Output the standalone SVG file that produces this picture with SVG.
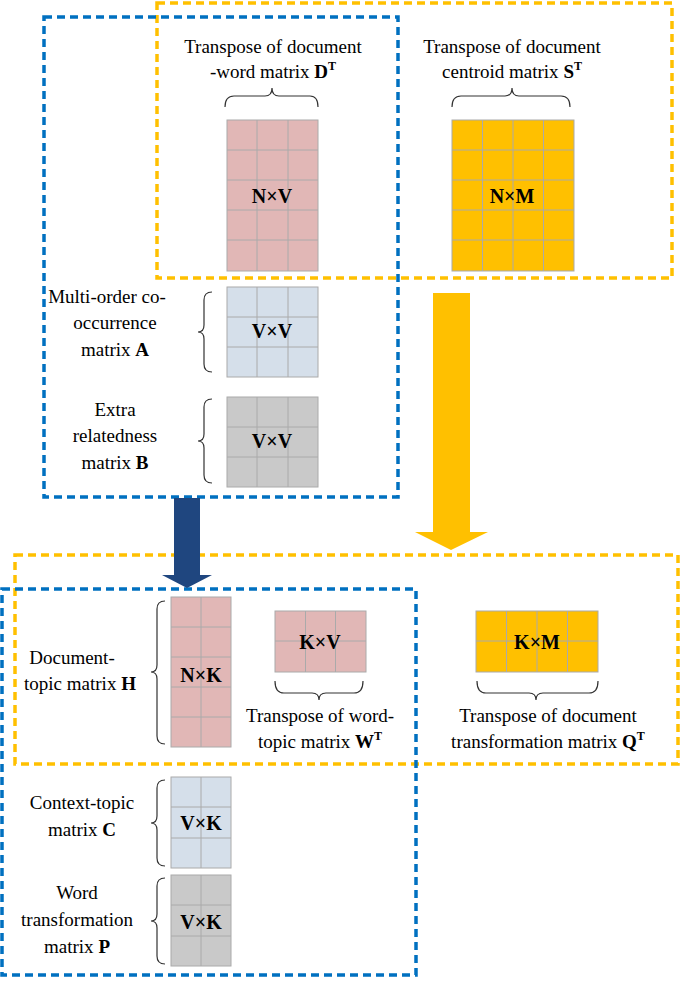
<svg xmlns="http://www.w3.org/2000/svg" width="685" height="988" viewBox="0 0 685 988">
<style>
text{font-family:"Liberation Serif",serif;font-size:19px;fill:#000;text-anchor:middle}
.b{font-weight:bold}
.l{font-size:20px;font-weight:bold}
.g{stroke:#aaa;stroke-width:1}
.br{fill:none;stroke:#333;stroke-width:1.2}
.ob{fill:none;stroke:#FFC000;stroke-width:3.5;stroke-dasharray:8 5}
.bb{fill:none;stroke:#0070C0;stroke-width:3.5;stroke-dasharray:8 5}
.pink{fill:#E1B7B6}.blue{fill:#D5DFEA}.gray{fill:#C9C9C9}.gold{fill:#FFC000}
</style>
<defs>
<pattern id="grid" width="30.3" height="30" patternUnits="userSpaceOnUse"><path d="M0 0H30.3M0 0V30" class="g" fill="none"/></pattern>
</defs>
<g id="frames">
<rect class="ob" x="157" y="3" width="515" height="275"/>
<rect class="bb" x="44" y="17" width="354" height="480"/>
<rect class="ob" x="15" y="555" width="663" height="209"/>
<rect class="bb" x="2" y="589" width="414" height="386"/>
</g>
<g id="connectors">
<path d="M174 498H200V575H212L187 588L162 575H174Z" fill="#1F467F"/>
<path d="M433 293H470V532H488L451 550L415 532H433Z" fill="#FFC000"/>
</g>
<g id="D">
<rect class="pink" x="227" y="120" width="91" height="151" stroke="#aaa"/>
<path class="g" d="M257 120V271M288 120V271M227 150H318M227 180H318M227 210H318M227 240H318"/>
<text x="272" y="203" class="l">N×V</text>
<path class="br" d="M225 107Q225 96 234 96H265Q272 96 272 88Q272 96 279 96H310Q318 96 318 107"/>
<text x="273" y="53">Transpose of document</text>
<text x="273" y="78">-word matrix <tspan class="b">D</tspan><tspan class="b" font-size="12" dy="-8">T</tspan></text>
</g>
<g id="S">
<rect class="gold" x="452" y="120" width="122" height="151" stroke="#aaa"/>
<path class="g" d="M482.5 120V271M513 120V271M543.5 120V271M452 150H574M452 180H574M452 210H574M452 240H574"/>
<text x="512" y="203" class="l">N×M</text>
<path class="br" d="M452 107Q452 96 461 96H505Q512 96 512 88Q512 96 519 96H561Q570 96 570 107"/>
<text x="512" y="53">Transpose of document</text>
<text x="512" y="78">centroid matrix <tspan class="b">S</tspan><tspan class="b" font-size="12" dy="-8">T</tspan></text>
</g>
<g id="A">
<rect class="blue" x="227" y="287" width="91" height="90" stroke="#aaa"/>
<path class="g" d="M257 287V377M288 287V377M227 317H318M227 347H318"/>
<text x="272" y="338" class="l">V×V</text>
<path class="br" d="M212 292Q204 292 204 300V325Q204 332 198 332Q204 332 204 339V364Q204 372 212 372"/>
<text x="107" y="303">Multi-order co-</text>
<text x="115" y="329">occurrence</text>
<text x="115" y="356">matrix <tspan class="b">A</tspan></text>
</g>
<g id="B">
<rect class="gray" x="227" y="397" width="91" height="90" stroke="#aaa"/>
<path class="g" d="M257 397V487M288 397V487M227 427H318M227 457H318"/>
<text x="272" y="448" class="l">V×V</text>
<path class="br" d="M212 399Q204 399 204 407V434Q204 441 198 441Q204 441 204 448V475Q204 483 212 483"/>
<text x="115" y="416">Extra</text>
<text x="115" y="442">relatedness</text>
<text x="115" y="469">matrix <tspan class="b">B</tspan></text>
</g>
<g id="H">
<rect class="pink" x="171" y="597" width="60" height="150" stroke="#aaa"/>
<path class="g" d="M201 597V747M171 627H231M171 657H231M171 687H231M171 717H231"/>
<text x="201" y="682" class="l">N×K</text>
<path class="br" d="M165 601Q157 601 157 609V665Q157 672 151 672Q157 672 157 679V736Q157 744 165 744"/>
<text x="72" y="664">Document-</text>
<text x="80" y="690">topic matrix <tspan class="b">H</tspan></text>
</g>
<g id="W">
<rect class="pink" x="275" y="611" width="91" height="61" stroke="#aaa"/>
<path class="g" d="M305.5 611V672M335.5 611V672M275 641H366"/>
<text x="320" y="649" class="l">K×V</text>
<path class="br" d="M275 681Q275 693 284 693H312Q319 693 319 700Q319 693 326 693H354Q363 693 363 681"/>
<text x="320" y="722">Transpose of word-</text>
<text x="320" y="748">topic matrix <tspan class="b">W</tspan><tspan class="b" font-size="12" dy="-8">T</tspan></text>
</g>
<g id="Q">
<rect class="gold" x="476" y="611" width="122" height="61" stroke="#aaa"/>
<path class="g" d="M506.5 611V672M537 611V672M567.5 611V672M476 641H598"/>
<text x="537" y="649" class="l">K×M</text>
<path class="br" d="M477 681Q477 693 486 693H529Q536 693 536 700Q536 693 543 693H589Q598 693 598 681"/>
<text x="548" y="722">Transpose of document</text>
<text x="548" y="748">transformation matrix <tspan class="b">Q</tspan><tspan class="b" font-size="12" dy="-8">T</tspan></text>
</g>
<g id="C">
<rect class="blue" x="171" y="777" width="60" height="91" stroke="#aaa"/>
<path class="g" d="M201 777V868M171 807H231M171 838H231"/>
<text x="201" y="830" class="l">V×K</text>
<path class="br" d="M165 780Q157 780 157 788V816Q157 823 151 823Q157 823 157 830V858Q157 866 165 866"/>
<text x="82" y="809">Context-topic</text>
<text x="82" y="836">matrix <tspan class="b">C</tspan></text>
</g>
<g id="P">
<rect class="gray" x="171" y="875" width="60" height="91" stroke="#aaa"/>
<path class="g" d="M201 875V966M171 905H231M171 936H231"/>
<text x="201" y="929" class="l">V×K</text>
<path class="br" d="M165 878Q157 878 157 886V914Q157 921 151 921Q157 921 157 928V956Q157 964 165 964"/>
<text x="77" y="899">Word</text>
<text x="77" y="926">transformation</text>
<text x="77" y="953">matrix <tspan class="b">P</tspan></text>
</g>
</svg>
